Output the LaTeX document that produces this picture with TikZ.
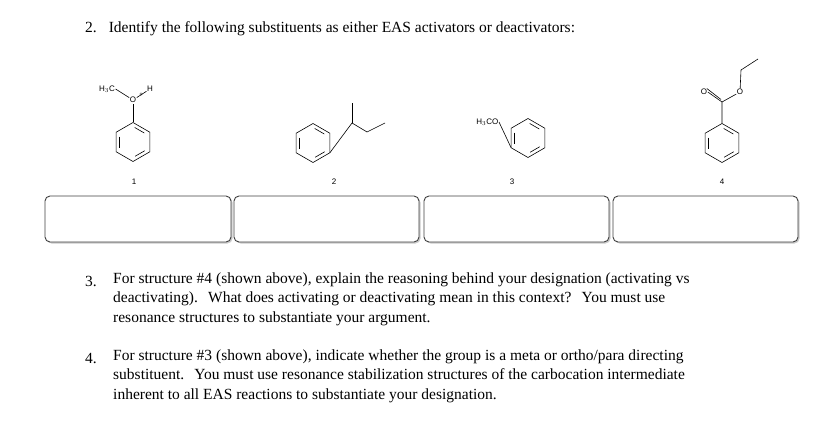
\documentclass[tikz,border=0pt]{standalone}
\usepackage{fontspec}
\setmainfont{Liberation Serif}
\newfontfamily\molf{Liberation Sans}
\usetikzlibrary{shadows,calc}
\begin{document}
\begin{tikzpicture}[x=1pt,y=-1pt,
  txt/.style={anchor=base west,inner sep=0pt,font=\fontsize{15.5}{19}\selectfont},
  para/.style={anchor=north west,inner sep=0pt,align=left,font=\fontsize{15.5}{19.4}\selectfont},
  abox/.style={draw=black!75,rounded corners=5pt,line width=0.9pt,fill=white,
     drop shadow={shadow xshift=1.5pt,shadow yshift=-1.5pt,fill=black!35,opacity=0.6}},
  atm/.style={inner sep=0.5pt,font=\molf\fontsize{8}{9}\selectfont},
  num/.style={inner sep=0pt,font=\molf\fontsize{8}{9}\selectfont},
  bd/.style={line width=0.6pt}]
\useasboundingbox (0,0) rectangle (830,425);
\node[txt] (q2) at (85,33) {2.\hspace{12pt}Identify the following substituents as either EAS activators or deactivators:};
\begin{scope}[bd]
\foreach \cx/\cy in {133/142,313/143,528/138,722/143}{
  \draw (\cx,\cy) ++(90:19.5) -- ++(-30:19.5) -- ++(-90:19.5) -- ++(-150:19.5) -- ++(150:19.5) -- ++(90:19.5) -- cycle;
  \draw ($(\cx,\cy)+(90:15.5)+(-30:2.5)$) -- ++(-30:11);
  \draw ($(\cx,\cy)+(-30:15.5)+(-150:2.5)$) -- ++(-150:11);
  \draw ($(\cx,\cy)+(-150:15.5)+(90:2.5)$) -- ++(90:11);
}
\end{scope}
% molecule 1
\node[atm] (o1) at (133,100) {O};
\node[atm] (me1) at (107,89) {H$_3$C};
\node[atm] (h1) at (150,89) {H};
\node[inner sep=0pt,font=\molf\fontsize{6}{7}\selectfont] (p1) at (141,95) {+};
\coordinate (r1) at (133,122.5);
\draw[bd] (r1) -- (o1);
\draw[bd] (o1) -- (me1.east);
\draw[bd] (o1) -- (h1);
\node[num] (n1) at (134,182) {1};
% molecule 2
\coordinate (r2) at ($(313,143)+(30:19.5)$);
\coordinate (c2a) at (352,123);
\coordinate (c2m) at (352,103);
\coordinate (c2b) at (367,132);
\coordinate (c2c) at (385,123);
\draw[bd] (r2) -- (c2a) -- (c2b) -- (c2c);
\draw[bd] (c2a) -- (c2m);
\node[num] (n2) at (334,182) {2};
% molecule 3
\node[atm,anchor=east] (o3) at (499,122) {H$_3$CO};
\coordinate (r3) at ($(528,138)+(150:19.5)$);
\draw[bd] (o3.east) -- (r3);
\node[num] (n3) at (512,182) {3};
% molecule 4
\coordinate (r4) at (722,123.5);
\coordinate (c4) at (722,102);
\node[atm] (od4) at (704,92) {O};
\node[atm] (oe4) at (740,92) {O};
\coordinate (e1) at (741,70);
\coordinate (e2) at (758,59);
\draw[bd] (r4) -- (c4) -- (oe4);
\draw[bd] (c4) -- (od4.east);
\draw[bd] ($(c4)+(-1,-2.5)$) -- ($(od4.east)+(-1,-3.5)$);
\draw[bd] (oe4) -- (e1) -- (e2);
\node[num] (n4) at (722,182) {4};
% boxes
\foreach \i/\a/\b in {1/45/231,2/234/419,3/424/609,4/613/798}
  \draw[abox] (\a,196) rectangle (\b,242);
\node[txt] (q3n) at (85,286) {3.};
\node[para] (q3) at (113,272.5) {For structure \#4 (shown above), explain the reasoning behind your designation (activating vs\\deactivating).\hspace{5pt} What does activating or deactivating mean in this context?\hspace{5pt} You must use\\resonance structures to substantiate your argument.};
\node[txt] (q4n) at (85,363) {4.};
\node[para] (q4) at (113,349.5) {For structure \#3 (shown above), indicate whether the group is a meta or ortho/para directing\\substituent.\hspace{5pt} You must use resonance stabilization structures of the carbocation intermediate\\inherent to all EAS reactions to substantiate your designation.};
\end{tikzpicture}
\end{document}
